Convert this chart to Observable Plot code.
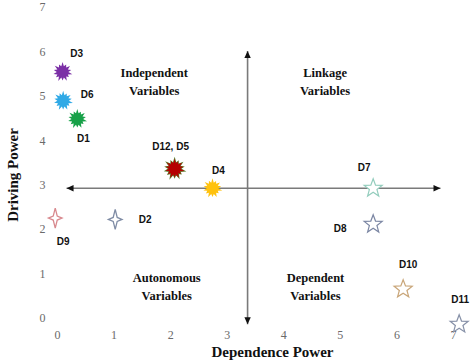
<!DOCTYPE html>
<html><head><meta charset="utf-8">
<script src="https://cdn.jsdelivr.net/npm/d3@7"></script>
<script src="https://cdn.jsdelivr.net/npm/@observablehq/plot@0.6"></script>
<style>body{margin:0;background:#fff}svg{display:block}</style>
</head><body><div id="chart"></div>
<script>
// ---- data ----
const labels     = ["D3","D6","D1","D12, D5","D4","D9","D2","D7","D8","D10","D11"];
const dependence = [0.09, 0.10, 0.35, 2.07, 2.74, -0.04, 1.02, 5.58, 5.58, 6.11, 7.10];
const driving    = [5.55, 4.90, 4.49, 3.37, 2.93, 2.26, 2.23, 2.93, 2.12, 0.66, -0.13];
const shapes     = ["burst","burst","burst","burst","burst","cross4","cross4","star5","star5","star5","star5"];
const colors     = ["#7b2fa6","#2fa9e6","#17a148","#b50000","#ffc20e","#d8898e","#7f8ca5","#93cdbd","#7b86a3","#c9a679","#8791a8"];
const labelDx    = [14, 24, 6, -4, 6, 8, 30, -9, -33, 5, 1];
const labelDy    = [-18, -6, 20, -22, -18, 24, 0, -21, 4, -24, -24];
const xTicks = [0,1,2,3,4,5,6,7];
const yTicks = [0,1,2,3,4,5,6,7];
const quadrantNames = ["Independent\nVariables","Linkage\nVariables","Autonomous\nVariables","Dependent\nVariables"];
const quadrantX = [1.71, 4.73, 1.93, 4.56];
const quadrantY = [5.36, 5.36, 0.74, 0.74];
const dividerX = 3.36, dividerY = 2.93;
const arrowSpanX = [0.16, 6.77];
const arrowSpanY = [-0.13, 6.02];
const xTitle = "Dependence Power", yTitle = "Driving Power";

// ---- build tables ----
const points = labels.map((label, i) => ({label, x: dependence[i], y: driving[i], shape: shapes[i], dx: labelDx[i], dy: labelDy[i]}));
const quadrants = quadrantNames.map((name, i) => ({name, x: quadrantX[i], y: quadrantY[i]}));
const dividers = [
  {x1: arrowSpanX[0], y1: dividerY, x2: arrowSpanX[1], y2: dividerY},
  {x1: dividerX, y1: arrowSpanY[0], x2: dividerX, y2: arrowSpanY[1]}
];
const heads = [
  {x: arrowSpanX[0], y: dividerY, rot: -90},
  {x: arrowSpanX[1], y: dividerY, rot: 90},
  {x: dividerX, y: arrowSpanY[1], rot: 0},
  {x: dividerX, y: arrowSpanY[0], rot: 180}
];

// ---- custom symbols ----
const burstMul = [1, 0.82, 0.95, 0.88, 1, 0.8, 0.97, 0.86, 1, 0.84, 0.93, 0.9, 1, 0.83];
const burst = {draw(ctx, size) {
  const R = Math.sqrt(size / Math.PI), n = burstMul.length;
  for (let k = 0; k < n * 2; ++k) {
    const a = (k / (n * 2)) * 2 * Math.PI;
    const r = k % 2 === 0 ? R * burstMul[k / 2] : R * 0.58;
    const px = r * Math.sin(a), py = -r * Math.cos(a);
    k ? ctx.lineTo(px, py) : ctx.moveTo(px, py);
  }
  ctx.closePath();
}};
const cross4 = {draw(ctx, size) {
  const R = Math.sqrt(size / Math.PI), w = R * 0.68, a = R * 0.2;
  ctx.moveTo(0, -R); ctx.lineTo(a, -a); ctx.lineTo(w, 0); ctx.lineTo(a, a);
  ctx.lineTo(0, R); ctx.lineTo(-a, a); ctx.lineTo(-w, 0); ctx.lineTo(-a, -a);
  ctx.closePath();
}};
const star5 = {draw(ctx, size) {
  const R = Math.sqrt(size / Math.PI), ri = R * 0.42;
  for (let k = 0; k < 10; ++k) {
    const a = (k / 10) * 2 * Math.PI, r = k % 2 ? ri : R;
    const px = r * Math.sin(a), py = -r * Math.cos(a);
    k ? ctx.lineTo(px, py) : ctx.moveTo(px, py);
  }
  ctx.closePath();
}};
const head = {draw(ctx) {
  ctx.moveTo(0, 0); ctx.lineTo(3.2, 7); ctx.lineTo(-3.2, 7); ctx.closePath();
}};

const serif = "'Liberation Serif', 'Times New Roman', serif";
const sans = "'Liberation Sans', Arial, sans-serif";

const chart = Plot.plot({
  width: 474, height: 360,
  marginLeft: 57, marginRight: 21, marginTop: 7, marginBottom: 42,
  style: {fontFamily: serif, background: "#fff"},
  x: {domain: [0, 7]},
  y: {domain: [0, 7]},
  color: {domain: labels, range: colors},
  marks: [
    Plot.axisX(xTicks, {tickSize: 0, tickPadding: 12, fontSize: 12, color: "#6a6a6a", label: null}),
    Plot.axisY(yTicks, {tickSize: 0, tickPadding: 12, fontSize: 12, color: "#6a6a6a", label: null}),
    Plot.link(dividers, {x1: "x1", y1: "y1", x2: "x2", y2: "y2", stroke: "#7a7a7a", strokeWidth: 1.6}),
    Plot.dot(heads, {x: "x", y: "y", rotate: "rot", symbol: head, r: 4, fill: "#111", stroke: "none"}),
    Plot.text(quadrants, {x: "x", y: "y", text: "name", fontFamily: serif, fontWeight: "bold", fontSize: 12.5, lineHeight: 1.45, fill: "#111"}),
    Plot.dot(points.filter(d => d.label === "D12, D5"), {x: "x", y: "y", symbol: burst, r: 10, fill: "none", stroke: "#5b7d2c", strokeWidth: 1.2}),
    Plot.dot(points.filter(d => d.shape === "burst"), {x: "x", y: "y", symbol: burst, r: 10, fill: "label", stroke: "none"}),
    Plot.dot(points.filter(d => d.shape === "cross4"), {x: "x", y: "y", symbol: cross4, r: 10, fill: "#fff", stroke: "label", strokeWidth: 1.3}),
    Plot.dot(points.filter(d => d.shape === "star5"), {x: "x", y: "y", symbol: star5, r: 9.5, fill: "#fff", stroke: "label", strokeWidth: 1.2}),
    ...points.map(p => Plot.text([p], {x: "x", y: "y", text: "label", dx: p.dx, dy: p.dy, fontFamily: sans, fontWeight: "bold", fontSize: 10, fill: "#111"})),
    Plot.text([xTitle], {frameAnchor: "bottom", textAnchor: "middle", lineAnchor: "middle", dx: 17, dy: 34, fontFamily: serif, fontWeight: "bold", fontSize: 15, fill: "#111"}),
    Plot.text([yTitle], {frameAnchor: "left", textAnchor: "middle", lineAnchor: "middle", rotate: -90, dx: -44, dy: 12, fontFamily: serif, fontWeight: "bold", fontSize: 15, fill: "#111"})
  ]
});
document.getElementById("chart").append(chart);
</script>
</body></html>
